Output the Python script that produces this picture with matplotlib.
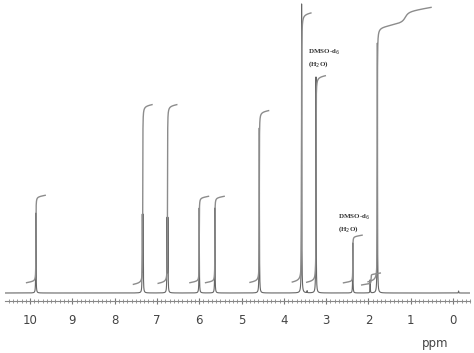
import matplotlib.pyplot as plt
import numpy as np

# peak positions (ppm) and heights (arbitrary)
peak_ppm = [9.86, 7.345, 7.325, 6.76, 6.74, 6.00, 5.63, 4.58, 3.58, 3.45, 3.24, 2.37, 1.96, 1.79, -0.13]
peak_height = [80, 76, 76, 73, 73, 85, 85, 165, 289, 2, 216, 50, 13, 250, 2]

# integral curves: centre, start level, end level
integral_ppm = [9.86, 7.335, 6.75, 6.00, 5.63, 4.58, 3.58, 3.24, 2.37, 1.94, 1.79]
integral_lo = [10, 8, 9, 10, 10, 10, 10, 10, 10, 8, 10]
integral_hi = [95, 186, 186, 94, 94, 180, 278, 215, 55, 17, 264]

# extra broad step on the last integral
broad_ppm = 1.13
broad_height = 12

labels = ["DMSO-d$_6$\n(H$_2$O)", "DMSO-d$_6$\n(H$_2$O)"]
label_ppm = [3.42, 2.71]
label_y = [245, 80]

ticks = list(range(0, 11))


def lorentz(x, x0, h, g=0.004):
    return h * g ** 2 / ((x - x0) ** 2 + g ** 2)


def step(x, x0, g=0.0025):
    return 0.5 + np.arctan((x0 - x) / g) / np.pi


def main():
    fig = plt.figure(figsize=(4.74, 3.53), dpi=100)
    ax = fig.add_axes([5 / 474, 52 / 353, 465 / 474, 301 / 353])

    x = np.linspace(10.6, -0.4, 22001)
    y = np.zeros_like(x)
    for p, h in zip(peak_ppm, peak_height):
        y += lorentz(x, p, h)
    ax.plot(x, y, color='#666666', lw=0.8)

    for c, lo, hi in zip(integral_ppm, integral_lo, integral_hi):
        if c == 1.79:
            xi = np.linspace(c + 0.22, 0.52, 1500)
            yi = lo + (hi - lo) * step(xi, c) + broad_height * step(xi, broad_ppm, 0.06)
        else:
            xi = np.linspace(c + 0.22, c - 0.22, 800)
            yi = lo + (hi - lo) * step(xi, c)
        # slight upward drift across the region
        yi = yi + 3 * (c + 0.22 - xi) / 0.44
        ax.plot(xi, yi, color='#8c8c8c', lw=1.0)

    for t, px, py in zip(labels, label_ppm, label_y):
        ax.text(px, py, t, fontsize=5, fontweight='bold', family='Liberation Serif',
                ha='left', va='top', color='#333333', linespacing=1.3)

    ax.set_xlim(10.59, -0.40)
    ax.set_ylim(-8, 293)
    ax.set_xticks(ticks)
    ax.set_xticks(np.arange(-0.4, 10.6, 0.1), minor=True)
    ax.tick_params(axis='x', which='major', direction='inout', length=5, width=0.8,
                   color='#777777', labelsize=8.5, labelcolor='#444444', pad=7)
    ax.tick_params(axis='x', which='minor', direction='inout', length=2.5, width=0.6,
                   color='#888888')
    ax.set_yticks([])
    for side in ['top', 'left', 'right']:
        ax.spines[side].set_visible(False)
    ax.spines['bottom'].set_color('#888888')
    ax.spines['bottom'].set_linewidth(0.8)

    fig.text(435 / 474, 1 - 343 / 353, 'ppm', fontsize=8.5, color='#444444',
             ha='center', va='center')

    fig.savefig('out.png', dpi=100)


if __name__ == "__main__":
    main()
